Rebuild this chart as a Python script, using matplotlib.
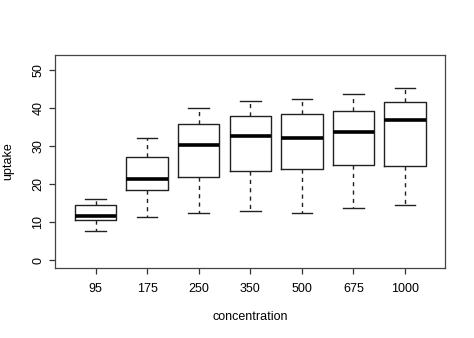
import matplotlib
matplotlib.use("Agg")
import matplotlib.pyplot as plt

categories = ["95", "175", "250", "350", "500", "675", "1000"]
whisk_lo = [7.6, 11.4, 12.4, 13.0, 12.5, 13.8, 14.4]
q1 = [10.5, 18.6, 21.9, 23.4, 23.9, 25.2, 24.8]
medians = [11.7, 21.5, 30.4, 32.8, 32.3, 33.8, 37.0]
q3 = [14.6, 27.2, 36.0, 37.9, 38.6, 39.2, 41.8]
whisk_hi = [16.2, 32.3, 40.1, 41.9, 42.6, 43.7, 45.3]
yticks = [0, 10, 20, 30, 40, 50]

plt.rcParams['font.family'] = ['Liberation Sans', 'DejaVu Sans']

fig = plt.figure(figsize=(4.74, 3.38), dpi=100)
ax = fig.add_axes([55.3/474, 1-268/338, 390/474, 213/338])

stats = []
for i, c in enumerate(categories):
    stats.append(dict(label=c, whislo=whisk_lo[i], q1=q1[i], med=medians[i],
                      q3=q3[i], whishi=whisk_hi[i], fliers=[]))

ax.bxp(stats, positions=range(1, len(categories)+1), widths=0.8,
       showfliers=False, patch_artist=False,
       boxprops=dict(color='#222222', linewidth=1.0),
       medianprops=dict(color='black', linewidth=2.6, solid_capstyle='butt'),
       whiskerprops=dict(color='#222222', linewidth=1.0, linestyle=(0, (3, 3))),
       capprops=dict(color='#222222', linewidth=1.0),
       capwidths=0.4)

ax.set_xlim(0.22, 7.78)
ax.set_ylim(-2.08, 54.08)
ax.set_yticks(yticks)
ax.set_yticklabels([str(t) for t in yticks], rotation=90, va='center')
ax.set_xticks(range(1, len(categories)+1))
ax.set_xticklabels(categories)
ax.tick_params(axis='both', length=4.5, width=0.9, color='#333333', labelsize=9)
ax.tick_params(axis='x', pad=6)
ax.tick_params(axis='y', pad=3.5)
for s in ax.spines.values():
    s.set_color('#444444')
    s.set_linewidth(0.9)
ax.set_xlabel("concentration", fontsize=9)
ax.xaxis.set_label_coords(0.5, -0.20)
ax.set_ylabel("uptake", fontsize=9)
ax.yaxis.set_label_coords(-0.106, 0.5)

fig.savefig("out.png", dpi=100)
